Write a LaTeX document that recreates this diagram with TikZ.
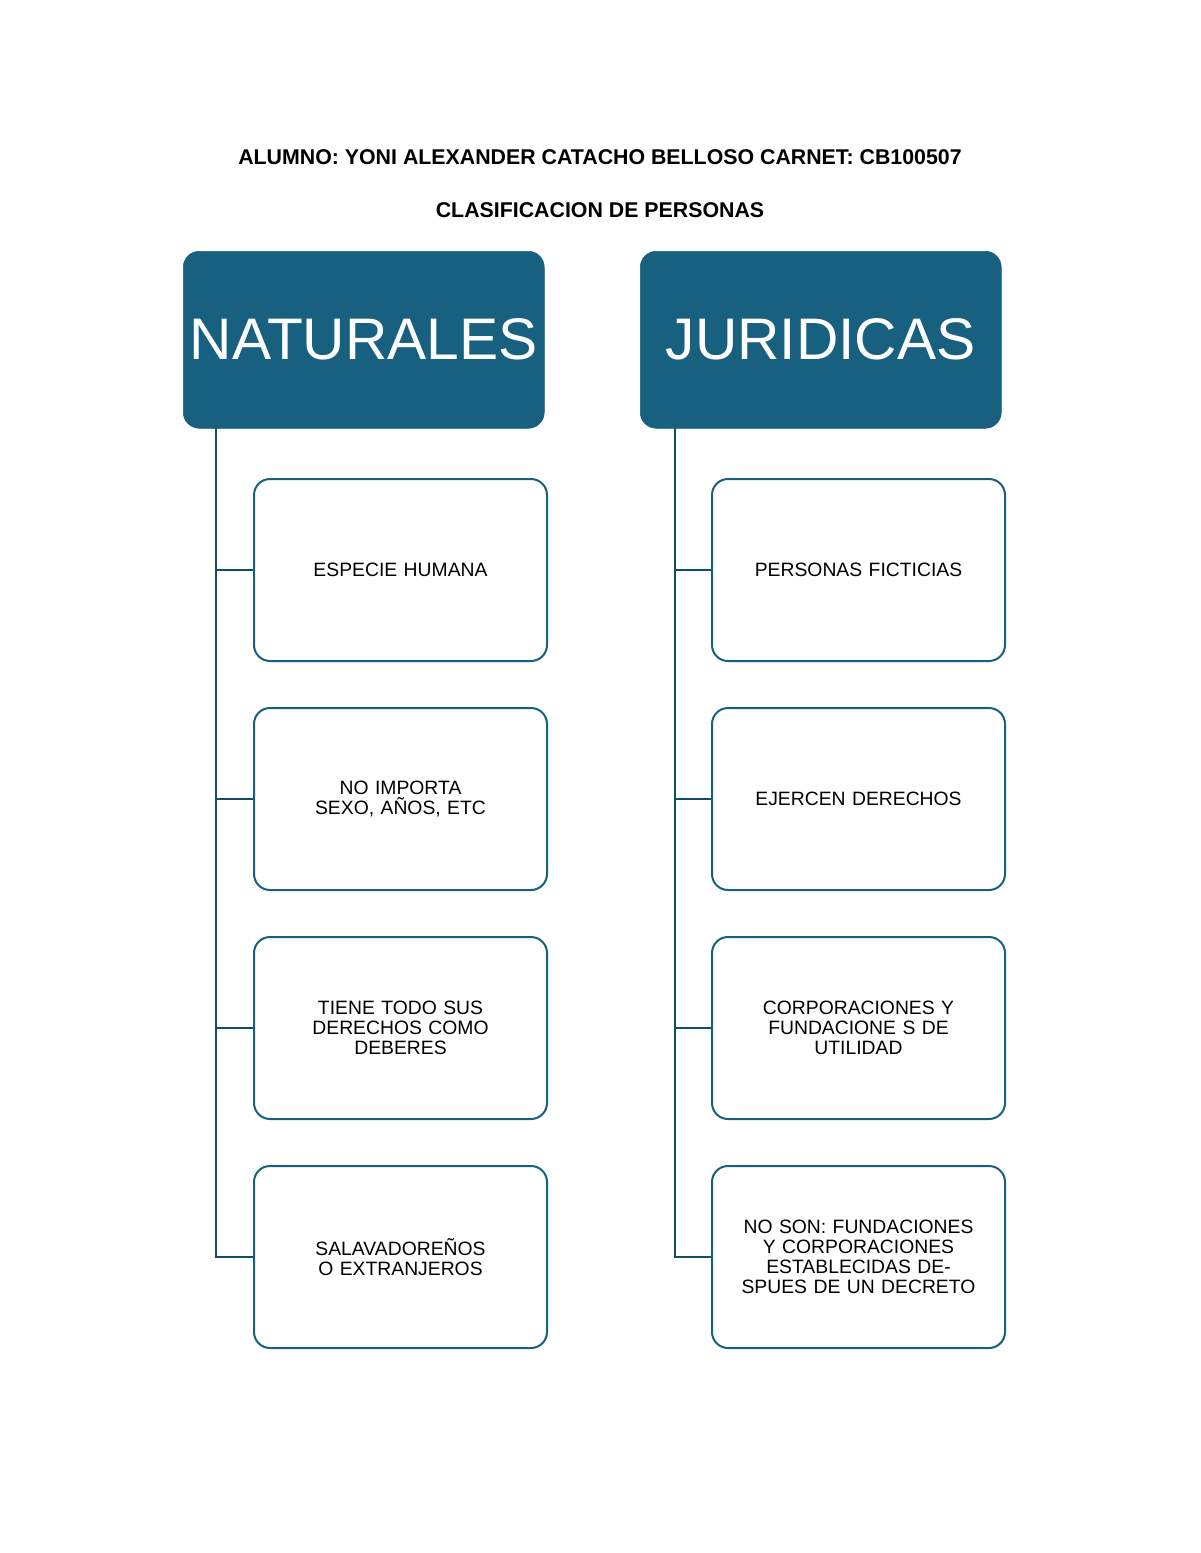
\documentclass[tikz,border=0pt]{standalone}
\usepackage{fontspec}
\setmainfont{Liberation Sans}
\definecolor{hdr}{HTML}{17607F}
\begin{document}
\begin{tikzpicture}[x=0.75pt,y=-0.75pt,
 hbox/.style={fill=hdr,draw=hdr,rounded corners=12pt,minimum width=361*0.75pt,minimum height=177*0.75pt,text=white,font=\fontsize{44}{50}\selectfont,anchor=north west},
 cbox/.style={draw=hdr,line width=1.5pt,rounded corners=12pt,fill=white,minimum width=293*0.75pt,minimum height=182*0.75pt,text width=210pt,align=center,font=\fontsize{14.5}{15}\selectfont,anchor=north west},
 link/.style={draw=hdr!80!black,line width=2pt}]
\useasboundingbox (0,0) rectangle (1200,1553);
\node[font=\bfseries\fontsize{16}{18}\selectfont] (t1) at (600,157) {ALUMNO: YONI ALEXANDER CATACHO BELLOSO CARNET: CB100507};
\node[font=\bfseries\fontsize{16}{18}\selectfont] (t2) at (600,210) {CLASIFICACION DE PERSONAS};
\node[hbox] (N) at (183,251) {NATURALES};
\node[hbox] (J) at (640,251) {JURIDICAS};
\node[cbox] (a1) at (253,478) {ESPECIE HUMANA};
\node[cbox] (a2) at (253,707) {NO IMPORTA SEXO, AÑOS, ETC};
\node[cbox] (a3) at (253,936) {TIENE TODO SUS\\DERECHOS COMO\\DEBERES};
\node[cbox] (a4) at (253,1165) {SALAVADOREÑOS O EXTRANJEROS};
\node[cbox] (b1) at (711,478) {PERSONAS FICTICIAS};
\node[cbox] (b2) at (711,707) {EJERCEN DERECHOS};
\node[cbox] (b3) at (711,936) {CORPORACIONES Y\\FUNDACIONE S DE\\UTILIDAD};
\node[cbox] (b4) at (711,1165) {NO SON: FUNDACIONES Y CORPORACIONES ESTABLECIDAS DESPUES DE UN DECRETO};
\coordinate (nl) at (216,428);
\coordinate (jl) at (675,428);
\draw[link] (nl) |- (a4.west);
\foreach \i in {1,2,3} \draw[link] (nl |- a\i.west) -- (a\i.west);
\draw[link] (jl) |- (b4.west);
\foreach \i in {1,2,3} \draw[link] (jl |- b\i.west) -- (b\i.west);
\end{tikzpicture}
\end{document}
